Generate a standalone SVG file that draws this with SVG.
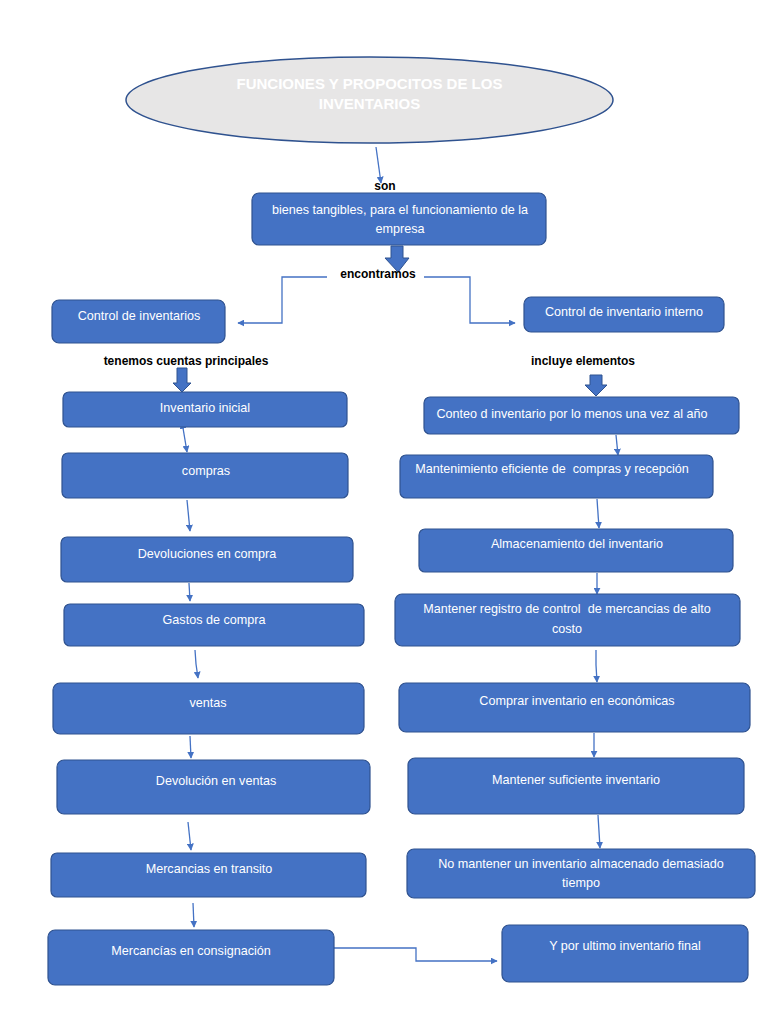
<svg xmlns="http://www.w3.org/2000/svg" width="768" height="1024" viewBox="0 0 768 1024">
<style>
.box{fill:#4472c4;stroke:#2f528f;stroke-width:1.2}
.t{font-family:"Liberation Sans",Arial,sans-serif;font-size:12.6px;fill:#ffffff;text-anchor:middle}
.lbl{font-family:"Liberation Sans",Arial,sans-serif;font-size:12px;font-weight:bold;fill:#000000;text-anchor:middle}
.title{font-family:"Liberation Sans",Arial,sans-serif;font-size:15px;font-weight:bold;fill:#ffffff;text-anchor:middle}
.c{fill:none;stroke:#4472c4;stroke-width:1.3}
.blk{fill:#4472c4;stroke:#2f528f;stroke-width:1}
</style>
<defs>
<marker id="ah" viewBox="0 0 10 10" refX="9" refY="5" markerWidth="7" markerHeight="7" markerUnits="userSpaceOnUse" orient="auto">
<path d="M0,0 L10,5 L0,10 z" fill="#4472c4"/>
</marker>
<marker id="ahs" viewBox="0 0 10 10" refX="1" refY="5" markerWidth="7" markerHeight="7" markerUnits="userSpaceOnUse" orient="auto-start-reverse">
<path d="M0,0 L10,5 L0,10 z" fill="#4472c4"/>
</marker>
</defs>
<rect width="768" height="1024" fill="#ffffff"/>

<g id="connectors">
<line class="c" x1="376" y1="147" x2="381" y2="183" marker-end="url(#ah)"/>
<polyline class="c" points="327,277 282,277 282,323 238,323" marker-end="url(#ah)"/>
<polyline class="c" points="424,277 470,277 470,323 515,323" marker-end="url(#ah)"/>
<line class="c" x1="183" y1="428" x2="187" y2="452" marker-start="url(#ahs)" marker-end="url(#ah)"/>
<line class="c" x1="187" y1="500" x2="190" y2="531" marker-end="url(#ah)"/>
<line class="c" x1="189" y1="583" x2="190" y2="601" marker-end="url(#ah)"/>
<polyline class="c" points="195,650 196,664 198,678" marker-end="url(#ah)"/>
<line class="c" x1="190" y1="736" x2="191" y2="758" marker-end="url(#ah)"/>
<line class="c" x1="188" y1="822" x2="191" y2="850" marker-end="url(#ah)"/>
<line class="c" x1="193" y1="903" x2="194" y2="927" marker-end="url(#ah)"/>
<polyline class="c" points="334,948 416,948 416,961 497,961" marker-end="url(#ah)"/>
<line class="c" x1="616" y1="435" x2="618" y2="455" marker-end="url(#ah)"/>
<line class="c" x1="597" y1="499" x2="599" y2="528" marker-end="url(#ah)"/>
<line class="c" x1="597" y1="573" x2="597" y2="594" marker-end="url(#ah)"/>
<polyline class="c" points="596,650 596,665 597,682" marker-end="url(#ah)"/>
<line class="c" x1="594" y1="733" x2="594" y2="757" marker-end="url(#ah)"/>
<line class="c" x1="598" y1="815" x2="600" y2="848" marker-end="url(#ah)"/>
<path class="blk" d="M391,246 H403 V258 H409 L398,272 L385,258 H391 Z"/>
<path class="blk" d="M177,368 H187 V383 H191 L182,392 L173,383 H177 Z"/>
<path class="blk" d="M590,375 H602 V385 H607 L596,396 L585,385 H590 Z"/>
</g>

<g id="title">
<ellipse cx="369.5" cy="100" rx="243.5" ry="43" fill="#e7e6e6" stroke="#2f528f" stroke-width="1.5"/>
<text class="title" x="369.5" y="89">FUNCIONES Y PROPOCITOS DE LOS</text>
<text class="title" x="369.5" y="109">INVENTARIOS</text>
</g>

<g id="labels">
<text class="lbl" x="385" y="190">son</text>
<text class="lbl" x="378" y="278">encontramos</text>
<text class="lbl" x="186" y="365">tenemos cuentas principales</text>
<text class="lbl" x="583" y="365">incluye elementos</text>
</g>

<g id="n-bienes">
<rect class="box" x="252" y="193" width="294" height="52" rx="7"/>
<text class="t" x="400" y="214">bienes tangibles, para el funcionamiento de la</text>
<text class="t" x="400" y="233">empresa</text>
</g>
<g id="n-control">
<rect class="box" x="52" y="300" width="173" height="43" rx="7"/>
<text class="t" x="139" y="320">Control de inventarios</text>
</g>
<g id="n-interno">
<rect class="box" x="524" y="297" width="200" height="35" rx="7"/>
<text class="t" x="624" y="316">Control de inventario interno</text>
</g>
<g id="n-inicial">
<rect class="box" x="63" y="392" width="284" height="35" rx="6"/>
<text class="t" x="205" y="412">Inventario inicial</text>
</g>
<g id="n-compras">
<rect class="box" x="62" y="453" width="286" height="45" rx="6"/>
<text class="t" x="206" y="475">compras</text>
</g>
<g id="n-devcompra">
<rect class="box" x="61" y="537" width="292" height="45" rx="6"/>
<text class="t" x="207" y="558">Devoluciones en compra</text>
</g>
<g id="n-gastos">
<rect class="box" x="64" y="604" width="300" height="42" rx="6"/>
<text class="t" x="214" y="624">Gastos de compra</text>
</g>
<g id="n-ventas">
<rect class="box" x="53" y="683" width="311" height="51" rx="7"/>
<text class="t" x="208" y="707">ventas</text>
</g>
<g id="n-devventas">
<rect class="box" x="57" y="760" width="313" height="54" rx="7"/>
<text class="t" x="216" y="785">Devolución en ventas</text>
</g>
<g id="n-transito">
<rect class="box" x="51" y="853" width="315" height="44" rx="6"/>
<text class="t" x="209" y="873">Mercancias en transito</text>
</g>
<g id="n-consignacion">
<rect class="box" x="48" y="930" width="286" height="55" rx="7"/>
<text class="t" x="191" y="955">Mercancías en consignación</text>
</g>
<g id="n-final">
<rect class="box" x="502" y="925" width="246" height="57" rx="7"/>
<text class="t" x="625" y="950">Y por ultimo inventario final</text>
</g>
<g id="n-conteo">
<rect class="box" x="424" y="397" width="315" height="37" rx="6"/>
<text class="t" x="572" y="418">Conteo d inventario por lo menos una vez al año</text>
</g>
<g id="n-mantenimiento">
<rect class="box" x="400" y="455" width="313" height="43" rx="6"/>
<text class="t" x="552" y="473" xml:space="preserve">Mantenimiento eficiente de  compras y recepción</text>
</g>
<g id="n-almacenamiento">
<rect class="box" x="419" y="529" width="314" height="43" rx="6"/>
<text class="t" x="577" y="548">Almacenamiento del inventario</text>
</g>
<g id="n-registro">
<rect class="box" x="395" y="594" width="345" height="52" rx="7"/>
<text class="t" x="567" y="613" xml:space="preserve">Mantener registro de control  de mercancias de alto</text>
<text class="t" x="567" y="633">costo</text>
</g>
<g id="n-comprar">
<rect class="box" x="399" y="683" width="351" height="49" rx="7"/>
<text class="t" x="577" y="705">Comprar inventario en económicas</text>
</g>
<g id="n-suficiente">
<rect class="box" x="408" y="758" width="336" height="56" rx="7"/>
<text class="t" x="576" y="784">Mantener suficiente inventario</text>
</g>
<g id="n-nomantener">
<rect class="box" x="407" y="849" width="348" height="49" rx="7"/>
<text class="t" x="581" y="868">No mantener un inventario almacenado demasiado</text>
<text class="t" x="581" y="887">tiempo</text>
</g>
</svg>
